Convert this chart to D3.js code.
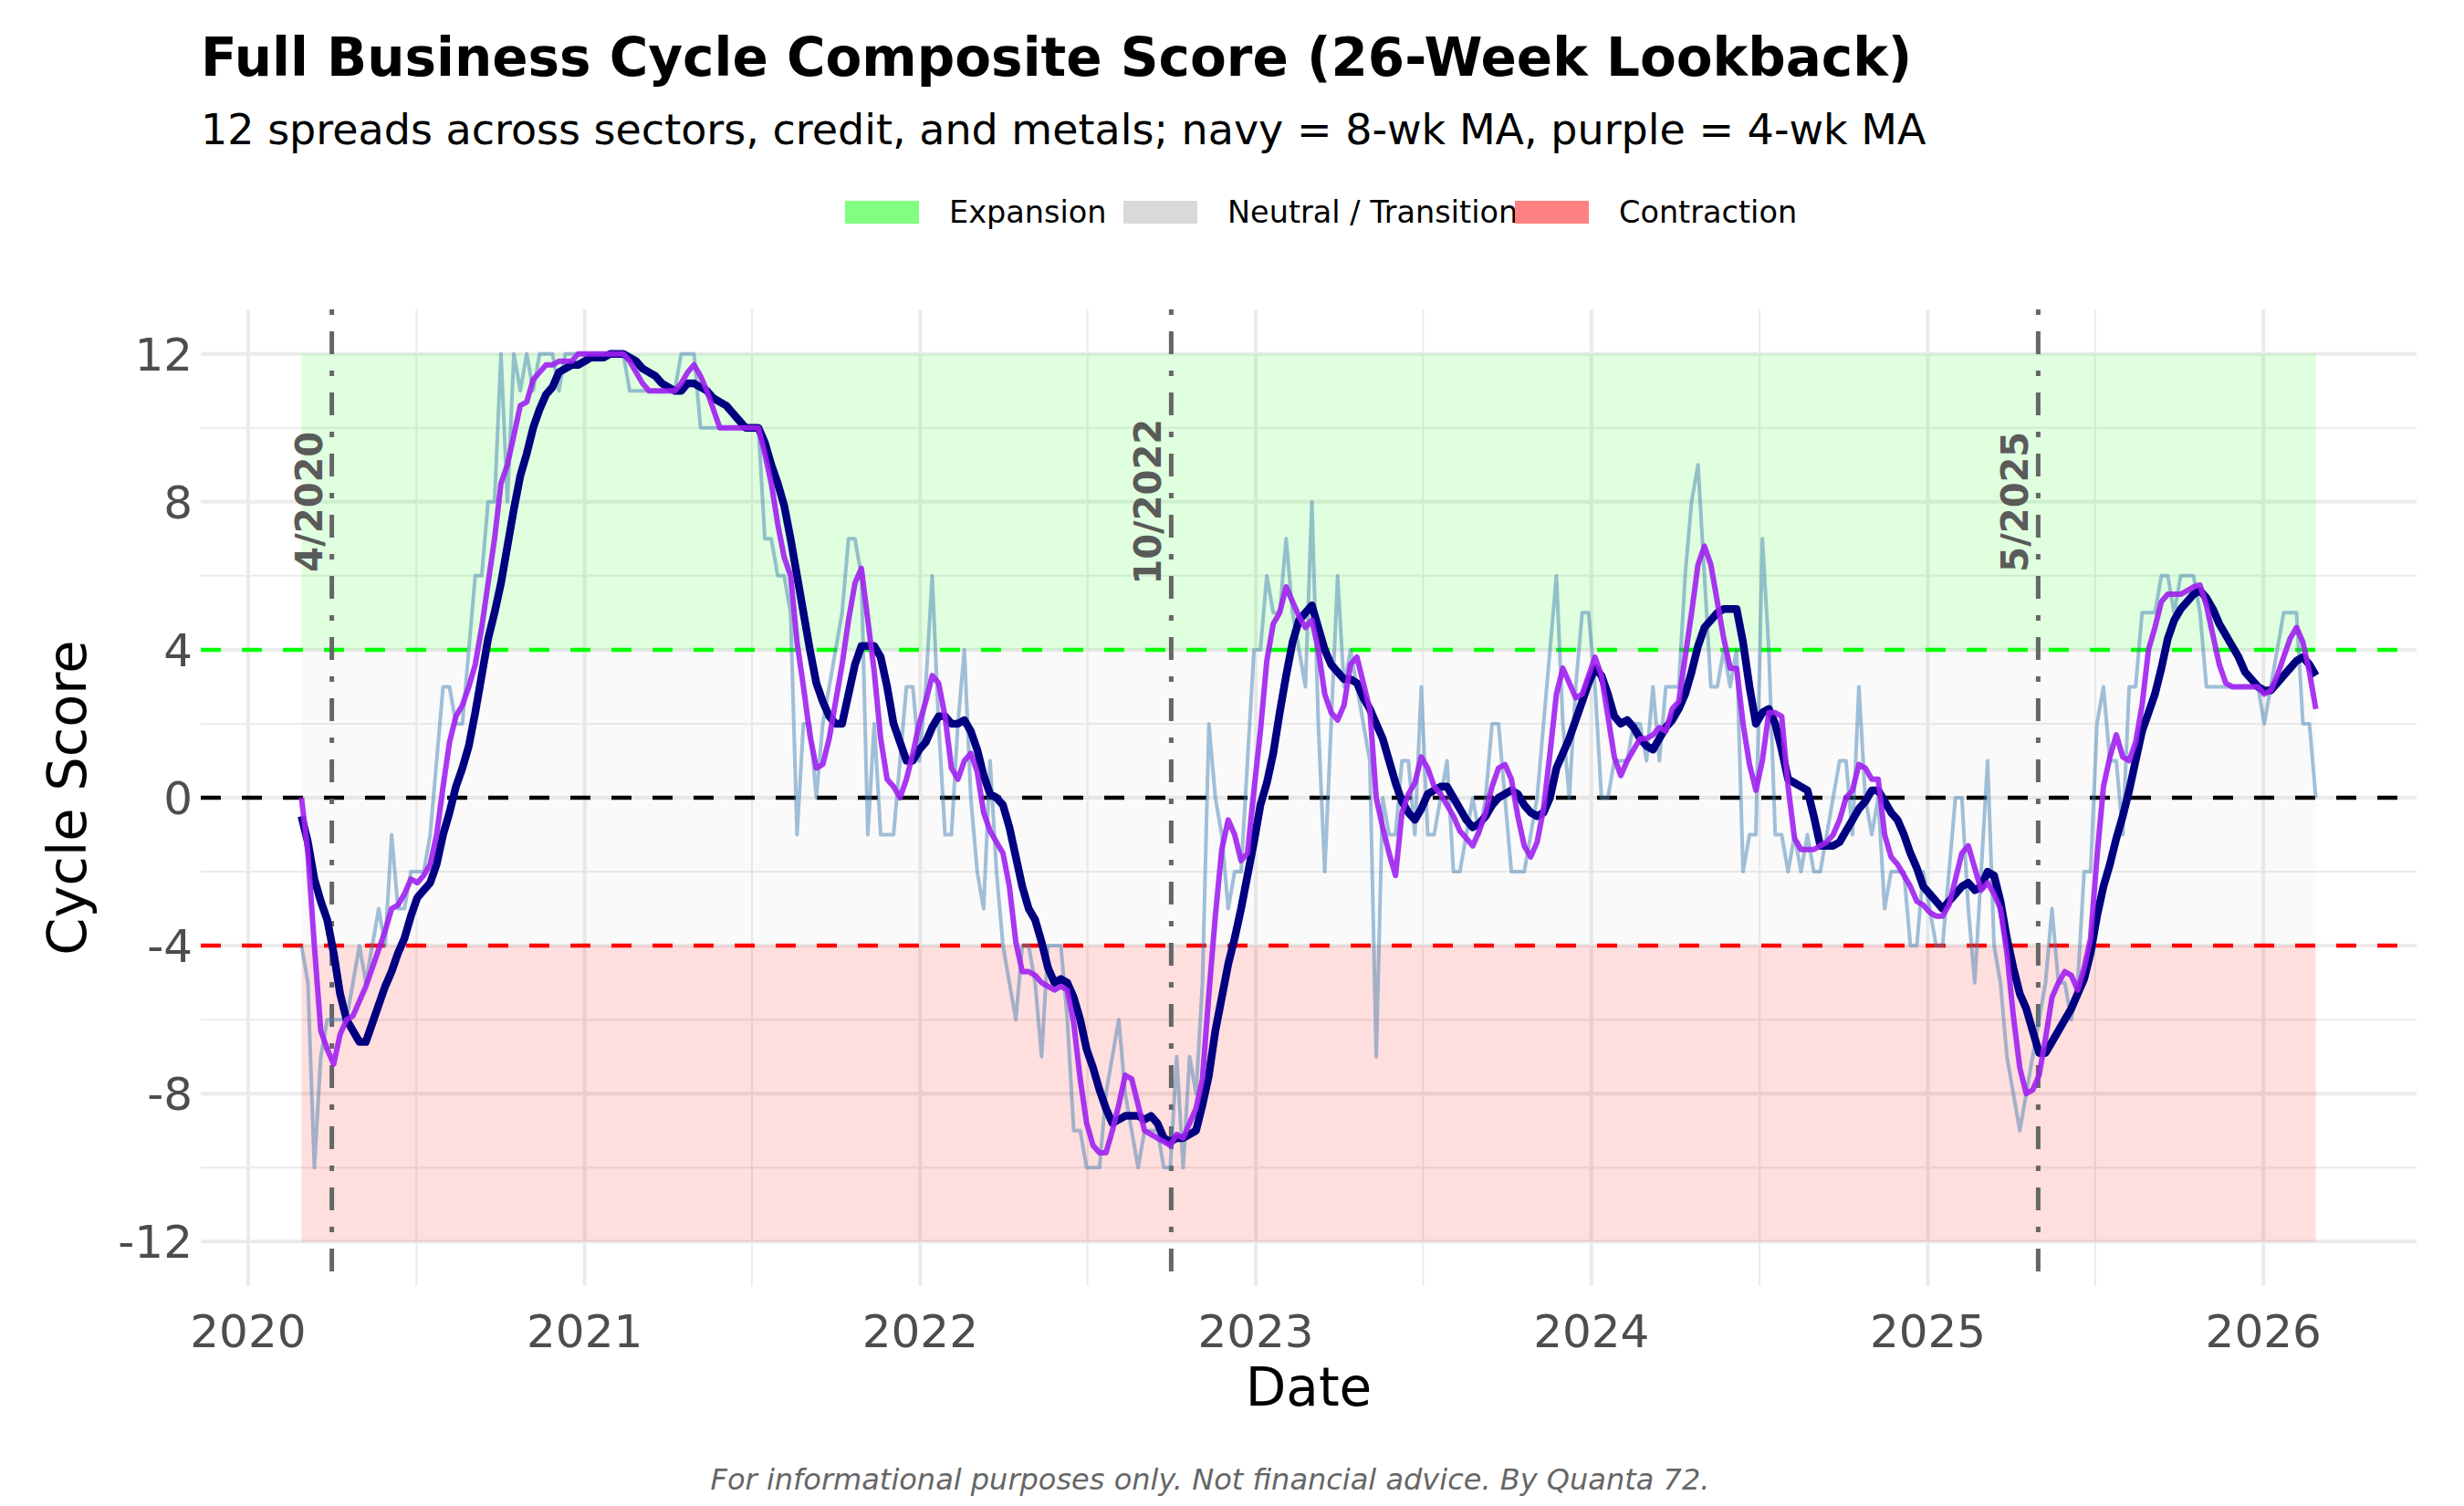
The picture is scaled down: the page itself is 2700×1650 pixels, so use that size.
<!DOCTYPE html>
<html>
<head>
<meta charset="utf-8">
<script src="https://cdn.jsdelivr.net/npm/d3@7"></script>
<style>
  body { margin: 0; background: #fff; }
  svg { font-family: "DejaVu Sans", sans-serif; }
</style>
</head>
<body>
<div id="chart"></div>
<script>
// weekly composite score, first week = 2020-02-28
var startDate = "2020-02-28";

var rawScore = [
  -4,-5,-10,-7,-6,-6,-6,-6,-5,-4,
  -5,-4,-3,-4,-1,-3,-3,-2,-2,-2,
  -1,1,3,3,2,2,4,6,6,8,
  8,12,8,12,11,12,11,12,12,12,
  11,12,12,12,12,12,12,12,12,12,
  12,11,11,11,11,11,11,11,11,12,
  12,12,10,10,10,10,10,10,10,10,
  10,10,7,7,6,6,5,-1,2,2,
  0,2,3,4,5,7,7,6,-1,2,
  -1,-1,-1,1,3,3,1,3,6,2,
  -1,-1,2,4,0,-2,-3,1,-2,-4,
  -5,-6,-4,-4,-5,-7,-4,-4,-4,-6,
  -9,-9,-10,-10,-10,-8,-7,-6,-8,-9,
  -10,-9,-9,-9,-10,-10,-7,-10,-7,-8,
  -5,2,0,-1,-3,-2,-2,1,4,4,
  6,5,5,7,5,4,3,8,2,-2,
  2,6,3,4,3,2,1,-7,0,-1,
  -1,1,1,-1,3,-1,-1,0,1,-2,
  -2,-1,0,-1,0,2,2,0,-2,-2,
  -2,-1,0,2,4,6,2,0,3,5,
  5,3,0,0,1,1,1,2,2,1,
  3,1,3,3,3,6,8,9,6,3,
  3,4,3,4,-2,-1,-1,7,4,-1,
  -1,-2,-1,-2,-1,-2,-2,-1,0,1,
  1,-1,3,0,-1,0,-3,-2,-2,-2,
  -4,-4,-2,-3,-4,-4,-2,0,0,-3,
  -5,-2,1,-4,-5,-7,-8,-9,-8,-7,
  -6,-5,-3,-5,-5,-6,-5,-2,-2,2,
  3,1,1,-1,3,3,5,5,5,6,
  6,5,6,6,6,5,3,3,3,3,
  3,3,3,3,3,2,3,4,5,5,
  5,2,2,0
];

// purple line, 4-week moving average
var ma4 = [
  0.0,-1.5,-4.0,-6.3,-6.8,-7.2,-6.4,-6.0,-5.9,-5.5,
  -5.1,-4.6,-4.1,-3.6,-3.0,-2.9,-2.6,-2.2,-2.3,-2.1,
  -1.8,-1.0,0.3,1.5,2.2,2.5,3.0,3.6,4.6,5.8,
  7.0,8.5,9.0,9.8,10.6,10.7,11.3,11.5,11.7,11.7,
  11.8,11.8,11.8,12,12,12,12,12,12,12,
  12,11.8,11.5,11.2,11.0,11.0,11.0,11.0,11.0,11.2,
  11.5,11.7,11.4,11.0,10.5,10.0,10,10,10,10,
  10,10,9.3,8.5,7.4,6.5,6.0,4.2,3.0,1.7,
  0.8,0.9,1.6,2.6,3.6,4.8,5.8,6.2,4.8,3.4,
  1.6,0.5,0.3,0.0,0.5,1.2,2.0,2.6,3.3,3.1,
  2.2,0.8,0.5,1.0,1.2,0.7,-0.4,-0.9,-1.2,-1.5,
  -2.4,-3.9,-4.7,-4.7,-4.8,-5.0,-5.1,-5.2,-5.1,-5.2,
  -6.1,-7.6,-8.8,-9.4,-9.6,-9.6,-9.0,-8.3,-7.5,-7.6,
  -8.3,-9.0,-9.1,-9.2,-9.3,-9.4,-9.1,-9.2,-8.8,-8.4,
  -7.6,-5.3,-3.2,-1.4,-0.6,-1.0,-1.7,-1.5,0.2,1.8,
  3.7,4.7,5.0,5.7,5.3,4.9,4.6,4.8,4.0,2.8,
  2.3,2.1,2.5,3.6,3.8,3.1,2.4,0.0,-0.8,-1.5,
  -2.1,-0.4,0.1,0.4,1.1,0.8,0.3,0.1,-0.2,-0.5,
  -0.9,-1.1,-1.3,-0.9,-0.4,0.3,0.8,0.9,0.5,-0.5,
  -1.3,-1.6,-1.2,-0.3,1.2,2.8,3.5,3.1,2.7,2.8,
  3.3,3.8,3.3,2.2,1.1,0.6,1.0,1.3,1.6,1.6,
  1.7,1.9,1.8,2.4,2.6,3.8,5.0,6.3,6.8,6.3,
  5.3,4.3,3.5,3.5,2.0,0.9,0.2,1.0,2.3,2.3,
  2.2,0.3,-1.1,-1.4,-1.4,-1.4,-1.3,-1.2,-1.0,-0.6,
  0.0,0.2,0.9,0.8,0.5,0.5,-1.0,-1.6,-1.8,-2.1,
  -2.4,-2.8,-2.9,-3.1,-3.2,-3.2,-2.9,-2.2,-1.5,-1.3,
  -1.9,-2.5,-2.3,-2.6,-3.0,-4.2,-5.9,-7.3,-8.0,-7.9,
  -7.5,-6.5,-5.4,-5.0,-4.7,-4.8,-5.2,-4.6,-3.8,-1.6,
  0.3,1.1,1.7,1.1,1.0,1.5,2.5,4.0,4.6,5.3,
  5.5,5.5,5.5,5.6,5.7,5.75,5.2,4.4,3.6,3.1,
  3.0,3.0,3.0,3.0,3.0,2.8,2.9,3.3,3.8,4.3,
  4.6,4.2,3.4,2.4
];

// navy line, 8-week moving average
var ma8 = [
  -0.5,-1.2,-2.2,-2.8,-3.3,-4.2,-5.3,-6.0,-6.3,-6.6,
  -6.6,-6.1,-5.6,-5.1,-4.7,-4.2,-3.8,-3.2,-2.7,-2.5,
  -2.3,-1.8,-1.0,-0.4,0.3,0.8,1.4,2.3,3.3,4.3,
  5.0,5.8,6.8,7.8,8.7,9.3,10.0,10.5,10.9,11.1,
  11.5,11.6,11.7,11.7,11.8,11.9,11.9,11.9,12,12,
  12,11.9,11.8,11.6,11.5,11.4,11.2,11.1,11.0,11.0,
  11.2,11.2,11.1,11.0,10.8,10.7,10.6,10.4,10.2,10.0,
  10.0,10.0,9.6,9.0,8.5,7.9,7.0,6.0,5.0,4.0,
  3.1,2.6,2.2,2.0,2.0,2.8,3.6,4.1,4.1,4.1,
  3.8,3.0,2.0,1.5,1.0,1.0,1.3,1.5,1.9,2.2,
  2.2,2.0,2.0,2.1,1.8,1.3,0.6,0.1,0.0,-0.2,
  -0.8,-1.6,-2.4,-3.0,-3.3,-3.9,-4.6,-5.0,-4.9,-5.0,
  -5.4,-6.0,-6.8,-7.3,-7.9,-8.4,-8.8,-8.7,-8.6,-8.6,
  -8.6,-8.7,-8.6,-8.8,-9.2,-9.3,-9.2,-9.2,-9.1,-9.0,
  -8.3,-7.5,-6.3,-5.4,-4.5,-3.8,-3.0,-2.1,-1.2,-0.2,
  0.4,1.2,2.3,3.3,4.2,4.8,5.0,5.2,4.6,4.0,
  3.6,3.4,3.2,3.2,3.1,2.7,2.4,2.0,1.6,1.0,
  0.4,-0.1,-0.4,-0.6,-0.3,0.1,0.2,0.3,0.3,0.0,
  -0.3,-0.6,-0.8,-0.7,-0.5,-0.2,0.0,0.1,0.2,0.1,
  -0.2,-0.4,-0.5,-0.4,0.0,0.8,1.2,1.6,2.1,2.6,
  3.1,3.5,3.3,2.8,2.2,2.0,2.1,1.9,1.6,1.4,
  1.3,1.6,1.9,2.1,2.4,2.8,3.4,4.1,4.6,4.8,
  5.0,5.1,5.1,5.1,4.2,3.0,2.0,2.3,2.4,2.0,
  1.3,0.5,0.4,0.3,0.2,-0.5,-1.3,-1.3,-1.3,-1.2,
  -0.9,-0.6,-0.3,-0.1,0.2,0.2,-0.1,-0.4,-0.6,-1.0,
  -1.5,-1.9,-2.4,-2.6,-2.8,-3.0,-2.8,-2.6,-2.4,-2.3,
  -2.5,-2.4,-2.0,-2.1,-2.8,-3.8,-4.6,-5.3,-5.7,-6.3,
  -6.9,-6.9,-6.6,-6.3,-6.0,-5.7,-5.3,-4.9,-4.2,-3.2,
  -2.4,-1.8,-1.1,-0.5,0.2,1.0,1.8,2.3,2.8,3.5,
  4.3,4.8,5.1,5.3,5.5,5.6,5.4,5.1,4.7,4.4,
  4.1,3.8,3.4,3.2,3.0,2.9,2.9,3.1,3.3,3.5,
  3.7,3.8,3.6,3.3
];

var yTicks = [-12, -8, -4, 0, 4, 8, 12];
var yMinorTicks = [-10, -6, -2, 2, 6, 10];
var xTickYears = [2020, 2021, 2022, 2023, 2024, 2025, 2026];

var zoneNames = ["Expansion", "Neutral / Transition", "Contraction"];
var zoneLow = [4, -4, -12];
var zoneHigh = [12, 4, -4];
var thresholds = [4, 0, -4];

var regimeDates = ["2020-04-01", "2022-10-01", "2025-05-01"];
var regimeLabels = ["4/2020", "10/2022", "5/2025"];

// layout
var W = 2700, H = 1650;
var panel = {left: 220, right: 2648, top: 339, bottom: 1409};

var parse = d3.utcParse("%Y-%m-%d");
var t0 = parse(startDate);
var weeks = rawScore.map(function (v, i) {
  return {date: d3.utcDay.offset(t0, 7 * i), raw: v, ma4: ma4[i], ma8: ma8[i]};
});

var svg = d3.select("#chart").append("svg")
  .attr("width", W)
  .attr("height", H);

svg.append("rect").attr("width", W).attr("height", H).attr("fill", "#fff");

// scales, 5% padding like ggplot
var first = weeks[0].date, last = weeks[weeks.length - 1].date;
var pad = (last - first) * 0.05;
var x = d3.scaleUtc()
  .domain([new Date(+first - pad), new Date(+last + pad)])
  .range([panel.left, panel.right]);

var y = d3.scaleLinear()
  .domain([-13.2, 13.2])
  .range([panel.bottom, panel.top]);

var zoneFill = d3.scaleOrdinal().domain(zoneNames).range(["#00ff00", "#b3b3b3", "#ff0000"]);
var zoneAlpha = d3.scaleOrdinal().domain(zoneNames).range([0.125, 0.07, 0.13]);
var lineColor = d3.scaleOrdinal().domain(thresholds).range(["#00ff00", "#000000", "#ff0000"]);

var yearDates = xTickYears.map(function (yr) { return new Date(Date.UTC(yr, 0, 1)); });
var midYears = xTickYears.map(function (yr) { return new Date(Date.UTC(yr, 6, 2)); })
  .filter(function (d) { return d < x.domain()[1]; });

// grid
var grid = svg.append("g");
grid.selectAll(".ymin").data(yMinorTicks).enter().append("line")
  .attr("x1", panel.left).attr("x2", panel.right)
  .attr("y1", d => y(d)).attr("y2", d => y(d))
  .attr("stroke", "#ebebeb").attr("stroke-width", 2);
grid.selectAll(".xmin").data(midYears).enter().append("line")
  .attr("y1", panel.top).attr("y2", panel.bottom)
  .attr("x1", d => x(d)).attr("x2", d => x(d))
  .attr("stroke", "#ebebeb").attr("stroke-width", 2);
grid.selectAll(".ymaj").data(yTicks).enter().append("line")
  .attr("x1", panel.left).attr("x2", panel.right)
  .attr("y1", d => y(d)).attr("y2", d => y(d))
  .attr("stroke", "#ebebeb").attr("stroke-width", 4);
grid.selectAll(".xmaj").data(yearDates).enter().append("line")
  .attr("y1", panel.top).attr("y2", panel.bottom)
  .attr("x1", d => x(d)).attr("x2", d => x(d))
  .attr("stroke", "#ebebeb").attr("stroke-width", 4);

// regime bands
svg.append("g").selectAll("rect")
  .data(zoneNames).enter().append("rect")
  .attr("x", x(first))
  .attr("width", x(last) - x(first))
  .attr("y", (d, i) => y(zoneHigh[i]))
  .attr("height", (d, i) => y(zoneLow[i]) - y(zoneHigh[i]))
  .attr("fill", d => zoneFill(d))
  .attr("fill-opacity", d => zoneAlpha(d));

// threshold lines
svg.append("g").selectAll("line")
  .data(thresholds).enter().append("line")
  .attr("x1", panel.left).attr("x2", panel.right)
  .attr("y1", d => y(d)).attr("y2", d => y(d))
  .attr("stroke", d => lineColor(d))
  .attr("stroke-width", 4.5)
  .attr("stroke-dasharray", "22 23");

// regime markers
var marks = svg.append("g");
marks.selectAll("line")
  .data(regimeDates).enter().append("line")
  .attr("x1", d => x(parse(d))).attr("x2", d => x(parse(d)))
  .attr("y1", panel.top).attr("y2", panel.bottom)
  .attr("stroke", "#666666")
  .attr("stroke-width", 5)
  .attr("stroke-dasharray", "6 18 25 18");
marks.selectAll("text")
  .data(regimeDates).enter().append("text")
  .attr("transform", d => "translate(" + (x(parse(d)) - 11) + "," + y(8) + ") rotate(-90)")
  .attr("text-anchor", "middle")
  .attr("fill", "#5a5a5a")
  .style("font-size", "40px")
  .style("font-weight", "bold")
  .text((d, i) => regimeLabels[i]);

// series
var lineOf = function (key) {
  return d3.line().x(d => x(d.date)).y(d => y(d[key]));
};
svg.append("path").datum(weeks)
  .attr("d", lineOf("raw"))
  .attr("fill", "none")
  .attr("stroke", "#4682b4")
  .attr("stroke-opacity", 0.5)
  .attr("stroke-width", 4)
  .attr("stroke-linejoin", "round");
svg.append("path").datum(weeks)
  .attr("d", lineOf("ma8"))
  .attr("fill", "none")
  .attr("stroke", "#000080")
  .attr("stroke-width", 8.5)
  .attr("stroke-linejoin", "round");
svg.append("path").datum(weeks)
  .attr("d", lineOf("ma4"))
  .attr("fill", "none")
  .attr("stroke", "#a020f0")
  .attr("stroke-opacity", 0.9)
  .attr("stroke-width", 6)
  .attr("stroke-linejoin", "round");

// axes labels
svg.append("g").selectAll("text")
  .data(yTicks).enter().append("text")
  .attr("x", panel.left - 9)
  .attr("y", d => y(d) + 18)
  .attr("text-anchor", "end")
  .attr("fill", "#4d4d4d")
  .style("font-size", "50px")
  .text(d => d);

svg.append("g").selectAll("text")
  .data(yearDates).enter().append("text")
  .attr("x", d => x(d))
  .attr("y", 1476)
  .attr("text-anchor", "middle")
  .attr("fill", "#4d4d4d")
  .style("font-size", "50px")
  .text(d => d.getUTCFullYear());

svg.append("text")
  .attr("x", (panel.left + panel.right) / 2)
  .attr("y", 1540)
  .attr("text-anchor", "middle")
  .style("font-size", "58px")
  .text("Date");

svg.append("text")
  .attr("transform", "translate(94," + ((panel.top + panel.bottom) / 2) + ") rotate(-90)")
  .attr("text-anchor", "middle")
  .style("font-size", "59px")
  .text("Cycle Score");

// titles
svg.append("text")
  .attr("x", panel.left).attr("y", 83)
  .style("font-size", "58px")
  .style("font-weight", "bold")
  .text("Full Business Cycle Composite Score (26-Week Lookback)");

svg.append("text")
  .attr("x", panel.left).attr("y", 158)
  .style("font-size", "46px")
  .text("12 spreads across sectors, credit, and metals; navy = 8-wk MA, purple = 4-wk MA");

svg.append("text")
  .attr("x", 1326).attr("y", 1632)
  .attr("text-anchor", "middle")
  .attr("fill", "#666666")
  .style("font-size", "32px")
  .style("font-style", "italic")
  .text("For informational purposes only. Not financial advice. By Quanta 72.");

// legend
var keyX = [926, 1231, 1660];
var legendKey = d3.scaleOrdinal().domain(zoneNames).range(["#80ff80", "#d9d9d9", "#ff8080"]);
var legend = svg.append("g").selectAll("g")
  .data(zoneNames).enter().append("g")
  .attr("transform", (d, i) => "translate(" + keyX[i] + ",220)");
legend.append("rect")
  .attr("width", 81).attr("height", 25)
  .attr("fill", d => legendKey(d));
legend.append("text")
  .attr("x", 114).attr("y", 24)
  .style("font-size", "33.5px")
  .text(d => d);
</script>
</body>
</html>
